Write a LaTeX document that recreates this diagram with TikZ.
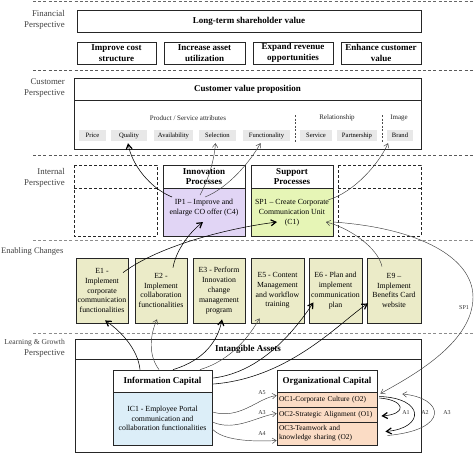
\documentclass[tikz,border=0pt]{standalone}
\usepackage{fontspec}
\setmainfont{Liberation Serif}
\usetikzlibrary{arrows.meta,calc}
\definecolor{lav}{HTML}{E1D5F5}
\definecolor{lgreen}{HTML}{E6F5B6}
\definecolor{khaki}{HTML}{EBEBC8}
\definecolor{lblue}{HTML}{DCEEF8}
\definecolor{peach}{HTML}{FBDCC5}
\begin{document}
\begin{tikzpicture}[x=1pt,y=-1pt,
  bx/.style={draw=black!85, line width=0.8pt, inner sep=1pt, align=center},
  hd/.style={bx, font=\fontsize{9}{10.5}\selectfont\bfseries},
  tx/.style={font=\fontsize{7.8}{9.8}\selectfont},
  ocf/.style={font=\fontsize{7.4}{9}\selectfont},
  attr/.style={fill=black!9, inner sep=0pt, minimum height=11pt, font=\fontsize{6.6}{7}\selectfont},
  grp/.style={font=\fontsize{7}{8}\selectfont, inner sep=0pt, text=black!85},
  persp/.style={font=\fontsize{8.8}{11}\selectfont, align=right, text=black!75, anchor=east, inner sep=0pt},
  sepline/.style={dash pattern=on 3pt off 2.2pt, line width=0.6pt},
  dbox/.style={draw=black!85, line width=0.8pt, dash pattern=on 3pt off 2pt},
  cn/.style={line width=0.45pt, draw=black!75, -{Straight Barb[length=4pt,width=5.5pt]}},
  ck/.style={line width=0.55pt, draw=black, -{Straight Barb[length=5pt,width=6pt,line width=1.2pt]}},
  lb/.style={font=\fontsize{6}{6}\selectfont, inner sep=0pt, text=black!80}
]
\useasboundingbox (0,0) rectangle (474,474);
\fill[white] (0,0) rectangle (474,474);

% separators
\draw[sepline, line width=1.4pt, draw=black!60] (33,1.5) -- (474,1.5);
\draw[sepline, draw=black!65] (33,70) -- (474,70);
\draw[sepline, draw=black!65] (33,155) -- (474,155);
\draw[sepline, draw=black!45] (33,240) -- (474,240);
\draw[sepline, draw=black!45] (33,333) -- (474,333);

% perspective labels
\node[persp] (pf) at (65,19.5) {Financial\\Perspective};
\node[persp] (pc) at (65,88) {Customer\\Perspective};
\node[persp] (pi) at (65,177.5) {Internal\\Perspective};
\node[persp, font=\fontsize{8.5}{11}\selectfont] (pe) at (63.5,251) {Enabling Changes};
\node[persp] (pl) at (65,348.5) {{\fontsize{7.6}{11}\selectfont Learning \& Growth}\\Perspective};

% financial
\node[hd, minimum width=344pt, minimum height=22pt] (lt) at (249,21) {Long-term shareholder value};
\node[hd, minimum width=79pt, minimum height=22pt] (f1) at (116.5,53) {Improve cost\\structure};
\node[hd, minimum width=81pt, minimum height=22pt] (f2) at (204.5,53) {Increase asset\\utilization};
\node[hd, minimum width=80pt, minimum height=22pt] (f3) at (293,53) {Expand revenue\\opportunities};
\node[hd, minimum width=80pt, minimum height=22pt] (f4) at (381,53) {Enhance customer\\value};

% customer
\node[bx, minimum width=347pt, minimum height=49pt] (cvb) at (247.5,124.5) {};
\node[hd, minimum width=347pt, minimum height=22pt] (cvh) at (247.5,89) {Customer value proposition};
\node[grp] (gps) at (188,118) {Product / Service attributes};
\node[grp] (grel) at (337,118) {Relationship};
\node[grp] (gimg) at (399,118) {Image};
\draw[line width=0.6pt, draw=black!70, dash pattern=on 2pt off 1.5pt] (295,115) -- (295,143);
\draw[line width=0.6pt, draw=black!70, dash pattern=on 2pt off 1.5pt] (382,115) -- (382,143);
\node[attr, minimum width=27pt] (price) at (92.5,135.5) {Price};
\node[attr, minimum width=36pt] (qual) at (129,135.5) {Quality};
\node[attr, minimum width=39pt] (avail) at (173.5,135.5) {Availability};
\node[attr, minimum width=37pt] (sel) at (217.5,135.5) {Selection};
\node[attr, minimum width=47pt] (fun) at (266.5,135.5) {Functionality};
\node[attr, minimum width=32pt] (serv) at (316,135.5) {Service};
\node[attr, minimum width=40pt] (part) at (357,135.5) {Partnership};
\node[attr, minimum width=26pt] (brand) at (400,135.5) {Brand};

% internal
\draw[dbox] (74,165) rectangle (157,236);
\draw[dbox] (74,188) -- (157,188);
\draw[dbox] (338,165) rectangle (421,236);
\draw[dbox] (338,188) -- (421,188);
\node[bx, fill=lav, minimum width=82pt, minimum height=48pt] (ipb) at (204,212) {};
\node[hd, minimum width=82pt, minimum height=23pt] (iph) at (204,176.5) {Innovation\\Processes};
\node[tx, align=center, inner sep=0pt] (ipt) at (204,208) {IP1 – Improve and\\enlarge CO offer (C4)};
\node[bx, fill=lgreen, minimum width=82pt, minimum height=48pt] (spb) at (292,212) {};
\node[hd, minimum width=82pt, minimum height=23pt] (sph) at (292,176.5) {Support\\Processes};
\node[tx, align=center, inner sep=0pt] (spt) at (292,213) {SP1 – Create Corporate\\Communication Unit\\(C1)};

% enabling changes
\node[bx, tx, fill=khaki, minimum width=52pt, minimum height=65pt] (e1) at (102,290.5) {E1 -\\Implement\\corporate\\communication\\functionalities};
\node[bx, tx, fill=khaki, minimum width=52pt, minimum height=65pt] (e2) at (161,290.5) {E2 -\\Implement\\collaboration\\functionalities};
\node[bx, tx, fill=khaki, minimum width=52pt, minimum height=65pt] (e3) at (219,290.5) {E3 - Perform\\Innovation\\change\\management\\program};
\node[bx, tx, fill=khaki, minimum width=53pt, minimum height=65pt] (e5) at (277.5,290.5) {E5 - Content\\Management\\and workflow\\training};
\node[bx, tx, fill=khaki, minimum width=53pt, minimum height=65pt] (e6) at (335.5,290.5) {E6 - Plan and\\implement\\communication\\plan};
\node[bx, tx, fill=khaki, minimum width=54pt, minimum height=65pt] (e9) at (394,290.5) {E9 –\\Implement\\Benefits Card\\website};

% learning & growth
\node[bx, minimum width=346pt, minimum height=93pt] (iab) at (248,405.5) {};
\node[hd, minimum width=346pt, minimum height=20pt] (iah) at (248,349) {Intangible Assets};
\node[bx, tx, fill=lblue, minimum width=99pt, minimum height=53pt] (icb) at (162.5,418.5) {IC1 - Employee Portal\\communication and\\collaboration functionalities};
\node[hd, minimum width=99pt, minimum height=22pt] (ich) at (162.5,381) {Information Capital};
\node[hd, minimum width=100pt, minimum height=22pt] (och) at (327,381) {Organizational Capital};
\node[bx, ocf, fill=peach, minimum height=15pt, text width=96pt, align=left, inner sep=2pt] (oc1) at (327,399.5) {OC1-Corporate Culture (O2)};
\node[bx, ocf, fill=peach, minimum height=15pt, text width=96pt, align=left, inner sep=2pt] (oc2) at (327,414.5) {OC2-Strategic Alignment (O1)};
\node[bx, ocf, fill=peach, minimum height=23pt, text width=96pt, align=left, inner sep=2pt] (oc3) at (327,433.5) {OC3-Teamwork and\\knowledge sharing (O2)};

% internal -> customer
\draw[ck] ($(ipb.center)+(-32,-15)$) .. controls (150,188) and (132,165) .. ($(qual.south)+(-1,2)$);
\draw[cn] ($(ipb.center)+(-4,-17)$) .. controls (208,180) and (214,162) .. ($(sel.south)+(-2,2)$);
\draw[cn] ($(ipb.center)+(1,-15)$) .. controls (228,188) and (250,162) .. ($(fun.south)+(-6,2)$);
\draw[cn] ($(spb.center)+(36,-12)$) .. controls (355,192) and (380,162) .. ($(brand.south)+(-12,2)$);

% enabling -> internal
\draw[ck] ($(e2.north)+(12,10)$) .. controls (176,250) and (190,232) .. ($(ipb.center)+(-1,10)$);
\draw[ck] ($(e1.north)+(21,15)$) .. controls (160,245) and (230,228) .. ($(spb.center)+(-15,10)$);
\draw[cn] ($(e9.north)+(-12,9)$) .. controls (378,248) and (350,228) .. ($(spb.center)+(34,10)$);

% SP1 loop to OC1
\draw[cn] ($(spb.center)+(41,10)$) .. controls (420,228) and (473,258) .. (473,297) .. controls (473,340) and (420,372) .. ($(oc1.east)+(3,-6)$);
\node[lb] (lsp) at (464,308) {SP1};

% learning -> enabling
\draw[ck] ($(ich.north)+(-22.5,0)$) .. controls (138,350) and (122,332) .. ($(e1.south)+(3,-3)$);
\draw[cn] ($(ich.north)+(-3.5,0)$) .. controls (148,355) and (150,335) .. ($(e2.south)+(-4,-4)$);
\draw[ck] ($(ich.north)+(10.5,0)$) .. controls (205,360) and (218,340) .. ($(e3.south)+(3,-4)$);
\draw[cn] ($(ich.north)+(37.5,0)$) .. controls (232,360) and (250,335) .. ($(e5.south)+(-18,-5)$);
\draw[ck] ($(ich.east)+(1,-3)$) .. controls (262,372) and (295,330) .. ($(e6.south)+(-22,-21)$);
\draw[ck] ($(ich.east)+(1,3)$) .. controls (290,378) and (340,322) .. ($(e9.south)+(-26,-20)$);

% information capital -> organizational capital
\draw[cn] ($(icb.east)+(0,-6.5)$) .. controls (240,420) and (258,398) .. ($(oc1.west)+(0,-4)$);
\draw[cn] ($(icb.east)+(0,3.5)$) .. controls (235,432) and (258,416) .. ($(oc2.west)+(0,-1)$);
\draw[cn] ($(icb.east)+(0,10.5)$) .. controls (222,440) and (250,442) .. ($(oc3.west)+(0,7)$);
\node[lb] (la5) at (262,393) {A5};
\node[lb] (la3) at (262,413) {A3};
\node[lb] (la4) at (262,434) {A4};

% loops on organizational capital
\draw[ck] ($(oc1.east)+(2,-1.5)$) .. controls (405,400) and (408,414) .. ($(oc2.east)+(4,1.5)$);
\draw[ck] ($(oc1.east)+(2,-3)$) .. controls (425,398) and (425,428) .. ($(oc3.east)+(8,-2)$);
\draw[cn] ($(oc3.east)+(10,2)$) .. controls (450,430) and (445,398) .. ($(oc1.east)+(25,-5.5)$);
\node[lb] (la1) at (406,413) {A1};
\node[lb] (la2) at (425,413) {A2};
\node[lb] (la3b) at (447,413) {A3};
\end{tikzpicture}
\end{document}
